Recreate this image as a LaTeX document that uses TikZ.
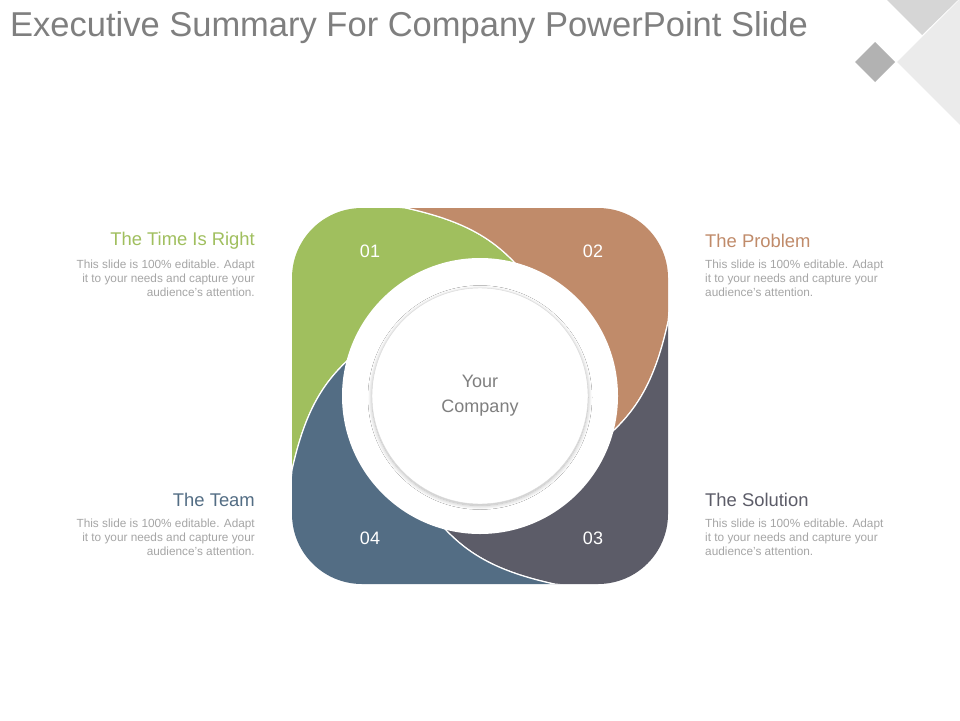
\documentclass[tikz,border=0pt]{standalone}
\usepackage{fontspec}
\setmainfont{Liberation Sans}
\usetikzlibrary{shadows.blur}
\definecolor{cgreen}{HTML}{A0BF5E}
\definecolor{cbrown}{HTML}{C08B6A}
\definecolor{cgray}{HTML}{5C5C68}
\definecolor{cblue}{HTML}{536D84}
\definecolor{ctxt}{HTML}{7F7F7F}
\definecolor{cbody}{HTML}{A6A6A6}
\tikzset{
 num/.style={text=white,font=\fontsize{18}{20}\selectfont},
 head/.style={font=\fontsize{18.4}{21}\selectfont},
 bodyl/.style={text=cbody,font=\fontsize{11.8}{14}\selectfont,align=right,anchor=north east,inner sep=0},
 bodyr/.style={text=cbody,font=\fontsize{11.8}{14}\selectfont,align=left,anchor=north west,inner sep=0},
}
\begin{document}
\begin{tikzpicture}[x=1pt,y=-1pt]
\useasboundingbox[fill=white] (0,0) rectangle (960,720);
% corner decoration
\fill[black!8] (897,62) -- (959,0) -- (960,0) -- (960,125) -- cycle;
\fill[black!16] (887,0) -- (958,0) -- (922,35) -- cycle;
\fill[black!30] (875,42) -- (895,62) -- (875,82) -- (855,62) -- cycle;
\node[anchor=west,text=ctxt,font=\fontsize{34.5}{38}\selectfont,inner sep=0] (title) at (10,28) {Executive Summary For Company PowerPoint Slide};
% diagram
\begin{scope}[shift={(480,396)},y=1pt]
\begin{scope}
\clip[rounded corners=70pt] (-188,-188) rectangle (188,188);
\foreach \c [count=\k from 0] in {cgreen,cbrown,cgray,cblue}{
 \begin{scope}[rotate=-90*\k]
 \fill[\c,draw=white,line width=1.2pt] (-188,-74) .. controls (-176,-20) and (-160,10) .. (-132,36) -- (0,0) -- (36,132) .. controls (10,160) and (-20,176) .. (-74,188) -- (-200,200) -- (-200,-74) -- cycle;
 \end{scope}}
\end{scope}
\node[circle,fill=white,minimum size=276pt,inner sep=0] (ring) at (0,0) {};
\node[circle,fill=white,draw=black!15,minimum size=216pt,inner sep=0,blur shadow={shadow blur steps=12,shadow blur radius=4pt,shadow xshift=0pt,shadow yshift=-1.5pt,shadow opacity=30}] (core) at (0,0) {};
\node[text=ctxt,font=\fontsize{18}{25}\selectfont,align=center] (yc) at (0,0) {Your\\Company};
\node[num] (n1) at (-110,145) {01};
\node[num] (n2) at (113,145) {02};
\node[num] (n3) at (113,-142) {03};
\node[num] (n4) at (-110,-142) {04};
\end{scope}
% side texts
\node[head,text=cgreen,anchor=east,inner sep=0] (h1) at (255,241) {The Time Is Right};
\node[bodyl] (b1) at (255,260) {This slide is 100\% editable. Adapt\\it to your needs and capture your\\audience’s attention.};
\node[head,text=cbrown,anchor=west,inner sep=0] (h2) at (705,241) {The Problem};
\node[bodyr] (b2) at (705,260) {This slide is 100\% editable. Adapt\\it to your needs and capture your\\audience’s attention.};
\node[head,text=cblue,anchor=east,inner sep=0] (h4) at (255,500) {The Team};
\node[bodyl] (b4) at (255,519) {This slide is 100\% editable. Adapt\\it to your needs and capture your\\audience’s attention.};
\node[head,text=cgray,anchor=west,inner sep=0] (h3) at (705,500) {The Solution};
\node[bodyr] (b3) at (705,519) {This slide is 100\% editable. Adapt\\it to your needs and capture your\\audience’s attention.};
\end{tikzpicture}
\end{document}
